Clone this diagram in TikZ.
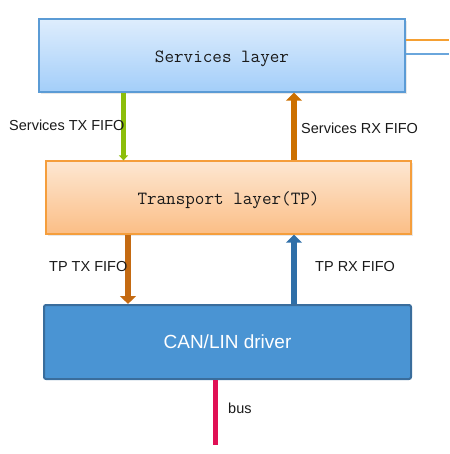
\documentclass[tikz,border=0pt]{standalone}
\usepackage{fontspec}
\setmainfont{Liberation Sans}
\usetikzlibrary{arrows.meta,shadows}
\definecolor{svctop}{RGB}{222,237,253}
\definecolor{svcbot}{RGB}{163,206,249}
\definecolor{svcline}{RGB}{91,155,213}
\definecolor{tptop}{RGB}{253,231,210}
\definecolor{tpbot}{RGB}{251,190,134}
\definecolor{tpline}{RGB}{245,158,60}
\definecolor{canfill}{RGB}{74,148,211}
\definecolor{canline}{RGB}{58,109,156}
\definecolor{greenarr}{RGB}{140,190,10}
\definecolor{orangearr}{RGB}{204,112,0}
\definecolor{brownarr}{RGB}{196,106,18}
\definecolor{bluearr}{RGB}{47,111,168}
\definecolor{buscol}{RGB}{224,16,85}
\definecolor{sideorange}{RGB}{245,160,51}
\definecolor{sideblue}{RGB}{106,166,220}
\definecolor{txt}{RGB}{26,26,26}
\tikzset{
  layerbox/.style={draw, line width=1.2pt, minimum height=73pt, inner sep=0pt,
    drop shadow={opacity=0.18, shadow xshift=2pt, shadow yshift=-2pt}},
  monotext/.style={font=\ttfamily\fontsize{18.6}{21}\selectfont, text=txt},
  lbl/.style={font=\fontsize{14.5}{17}\selectfont, text=txt, anchor=west, inner sep=0pt},
  fatarrow/.style={line width=6pt, -{Triangle[width=15.6pt,length=8pt]}, shorten >=0pt},
  thinarrow/.style={line width=5pt, -{Triangle[width=9pt,length=5pt]}},
}
\begin{document}
\begin{tikzpicture}[x=1pt,y=-1pt]
\useasboundingbox (0,0) rectangle (449,454);
% nodes
\node[layerbox, draw=svcline, top color=svctop, bottom color=svcbot,
      minimum width=366pt, monotext] (svc) at (222,55.5) {\raisebox{-3.5pt}[\height][\depth]{Services layer}};
\node[layerbox, draw=tpline, top color=tptop, bottom color=tpbot,
      minimum width=365pt, monotext] (tp) at (228.5,197.5) {\raisebox{-2.5pt}[\height][\depth]{Transport layer(TP)}};
\node[draw=canline, line width=2pt, fill=canfill, rounded corners=2pt,
      minimum width=367pt, minimum height=74pt, inner sep=0pt, text=white,
      font=\fontsize{19}{22}\selectfont] (can) at (227.5,342) {CAN/LIN driver};
% side lines
\coordinate (o) at (449,40);
\coordinate (b) at (449,54);
\draw[sideorange, line width=1.2pt] (svc.east |- o) -- (o);
\draw[sideblue, line width=1.2pt] (svc.east |- b) -- (b);
% arrows
\draw[greenarr, thinarrow] (svc.south -| 123.5,0) -- (tp.north -| 123.5,0);
\draw[orangearr, fatarrow] (tp.north -| 294,0) -- (svc.south -| 294,0);
\draw[brownarr, fatarrow] (tp.south -| 128,0) -- (can.north -| 128,0);
\draw[bluearr, fatarrow] (can.north -| 294,0) -- (tp.south -| 294,0);
% bus
\coordinate (busend) at (215.7,445);
\draw[buscol, line width=5pt] (can.south -| busend) -- (busend);
% labels
\node[lbl] (l1) at (9,125) {Services TX FIFO};
\node[lbl] (l2) at (301,128) {Services RX FIFO};
\node[lbl] (l3) at (49,267) {TP TX FIFO};
\node[lbl] (l4) at (315,267) {TP RX FIFO};
\node[lbl] (l5) at (228,408) {bus};
\end{tikzpicture}
\end{document}
